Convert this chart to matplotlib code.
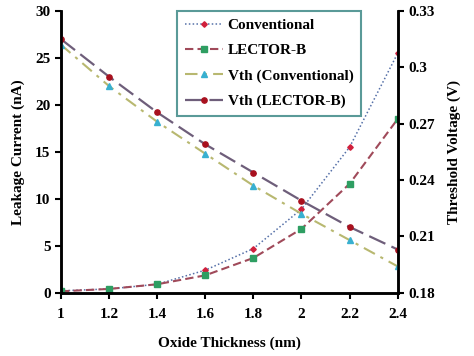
import matplotlib.pyplot as plt

# oxide thickness (nm)
thickness = [1.0, 1.2, 1.4, 1.6, 1.8, 2.0, 2.2, 2.4]

# leakage current (nA)
leak_conventional = [0.2, 0.4, 0.9, 2.4, 4.7, 8.9, 15.5, 25.5]
leak_lector = [0.15, 0.4, 0.9, 1.85, 3.7, 6.8, 11.6, 18.5]

# threshold voltage (V)
vth_conventional = [0.312, 0.290, 0.271, 0.254, 0.237, 0.222, 0.208, 0.194]
vth_lector = [0.315, 0.295, 0.276, 0.259, 0.244, 0.229, 0.215, 0.203]

plt.rcParams['font.family'] = ['Liberation Serif', 'DejaVu Serif']
plt.rcParams['font.weight'] = 'bold'

fig = plt.figure(figsize=(4.74, 3.56), dpi=100)
ax1 = fig.add_axes([0.1287, 0.1778, 0.7103, 0.7913])
ax2 = ax1.twinx()

l1, = ax1.plot(thickness, leak_conventional, linestyle=(0, (1, 1.5)), color='#5570a8',
               linewidth=1.1, marker='D', markersize=2.8, markerfacecolor='#d0203c',
               markeredgecolor='#d0203c')
l2, = ax1.plot(thickness, leak_lector, linestyle=(0, (4, 2)), color='#a04a5a',
               linewidth=1.5, marker='s', markersize=3.8, markerfacecolor='#2e9e62',
               markeredgecolor='#2e9e62')
l3, = ax2.plot(thickness, vth_conventional, linestyle=(0, (6, 3, 1.5, 3)), color='#b8b870',
               linewidth=1.5, marker='^', markersize=4.5, markerfacecolor='#38b0d0',
               markeredgecolor='#38b0d0')
l4, = ax2.plot(thickness, vth_lector, linestyle=(0, (8, 3)), color='#6e5e7a',
               linewidth=1.6, marker='o', markersize=3.8, markerfacecolor='#a8101e',
               markeredgecolor='#a8101e')

ax1.set_xlim(1, 2.4)
ax1.set_ylim(0, 30)
ax2.set_ylim(0.18, 0.33)
ax1.set_xticks([1, 1.2, 1.4, 1.6, 1.8, 2, 2.2, 2.4])
ax1.set_xticklabels(['1', '1.2', '1.4', '1.6', '1.8', '2', '2.2', '2.4'])
ax1.set_yticks([0, 5, 10, 15, 20, 25, 30])
ax2.set_yticks([0.18, 0.21, 0.24, 0.27, 0.3, 0.33])
ax2.set_yticklabels(['0.18', '0.21', '0.24', '0.27', '0.3', '0.33'])

for ax in (ax1, ax2):
    ax.spines['top'].set_visible(False)
    for s in ('left', 'right', 'bottom'):
        ax.spines[s].set_linewidth(1.8)
    ax.tick_params(direction='out', width=1.5, length=4, labelsize=11)
    for lab in ax.get_xticklabels() + ax.get_yticklabels():
        lab.set_fontweight('bold')
ax1.tick_params(axis='x', pad=7)

ax1.set_xlabel('Oxide Thickness (nm)', fontsize=11, fontweight='bold', labelpad=11)
ax1.set_ylabel('Leakage Current (nA)', fontsize=11, fontweight='bold', labelpad=7)
ax2.set_ylabel('Threshold Voltage (V)', fontsize=11, fontweight='bold', labelpad=9)

leg = ax2.legend([l1, l2, l3, l4],
                 ['Conventional', 'LECTOR-B', 'Vth (Conventional)', 'Vth (LECTOR-B)'],
                 loc='upper left', bbox_to_anchor=(0.345, 1.0), borderaxespad=0,
                 fancybox=False, prop={'weight': 'bold', 'size': 11}, handlelength=2.5,
                 handletextpad=0.3, labelspacing=0.75, borderpad=0.5, framealpha=1)
leg.get_frame().set_edgecolor('#5a9a98')
leg.get_frame().set_linewidth(1.5)

plt.savefig('out.png', dpi=100)
